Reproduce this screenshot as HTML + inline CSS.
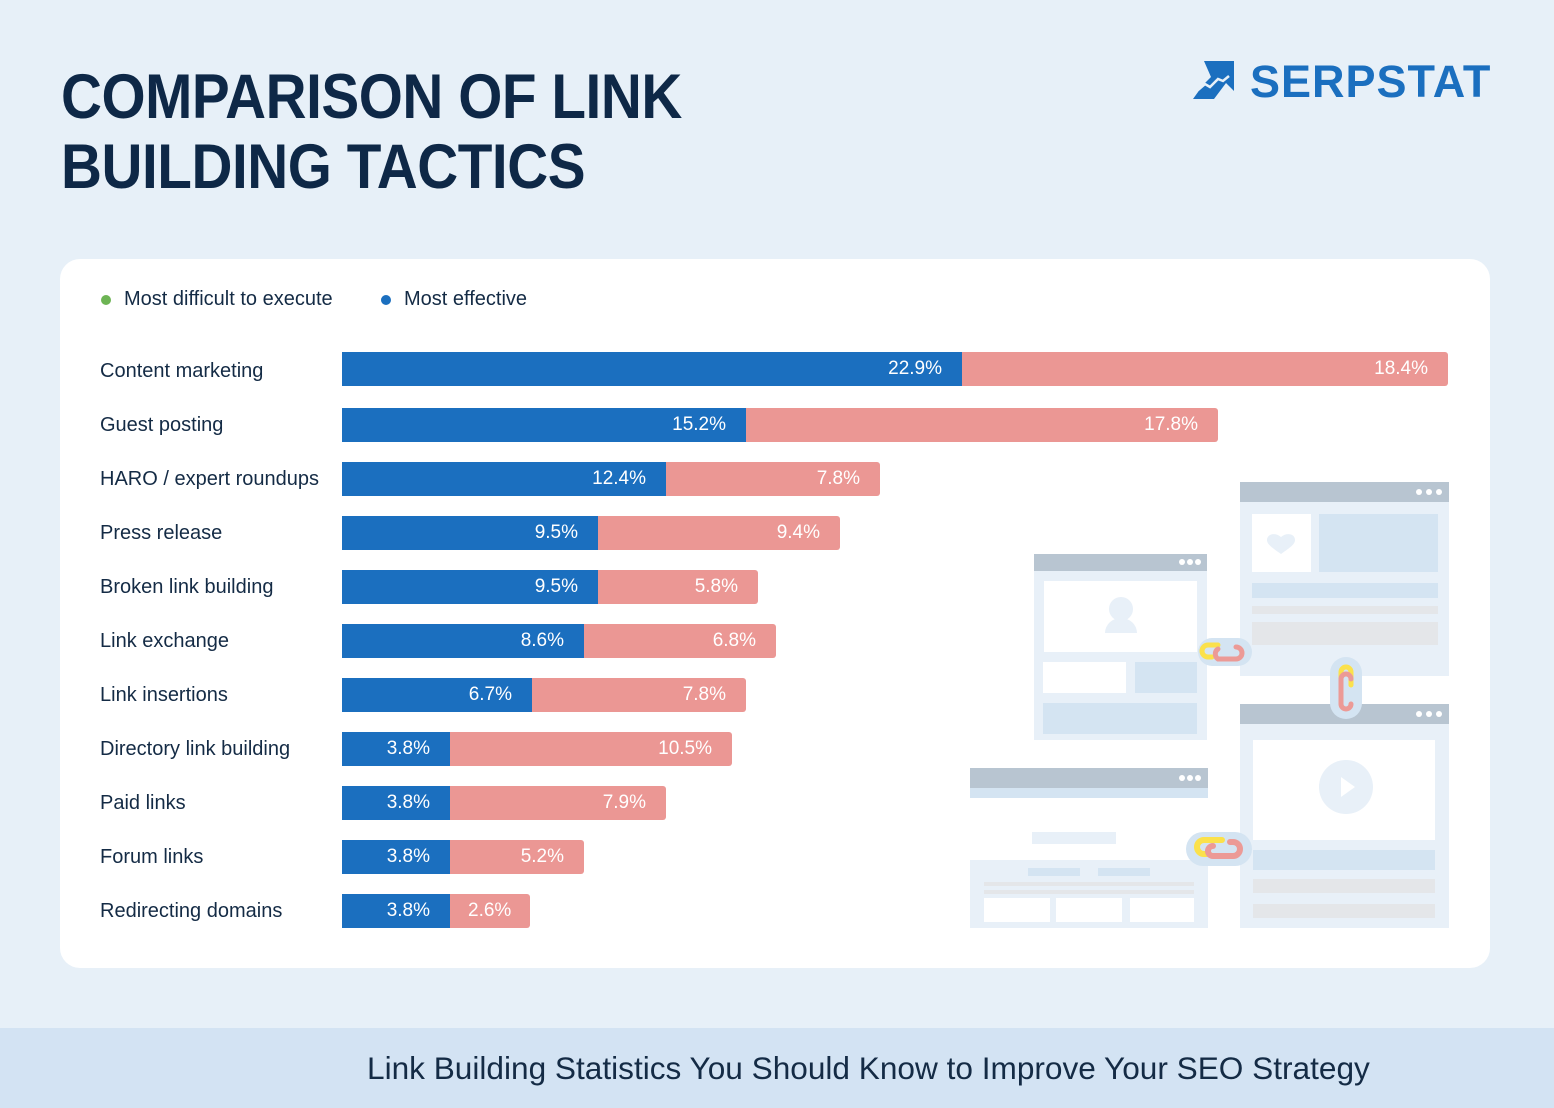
<!DOCTYPE html><html><head><style>
body{margin:0;width:1554px;height:1108px;background:#e7f0f8;font-family:"Liberation Sans",sans-serif;position:relative;overflow:hidden}
.a{position:absolute}
.t{left:61px;font-weight:bold;font-size:63px;color:#0e2847;letter-spacing:-0.5px;line-height:1;transform:scaleX(0.9);transform-origin:0 0;white-space:nowrap}
.card{left:60px;top:259px;width:1430px;height:709px;background:#fff;border-radius:20px}
.lab{left:100px;font-size:20px;color:#142b45;line-height:34px}
.b{height:34px;background:#1b6fbf;color:#fff;font-size:19px;line-height:34px;text-align:right;box-sizing:border-box;padding-right:20px}
.p{height:34px;background:#eb9794;color:#fff;font-size:19px;line-height:34px;text-align:right;box-sizing:border-box;padding-right:20px;border-radius:0 3px 3px 0}
</style></head><body>
<div class="a t" style="top:66px">COMPARISON OF LINK</div>
<div class="a t" style="top:136px">BUILDING TACTICS</div>
<svg class="a" style="left:1192px;top:60px" width="52" height="40" viewBox="0 0 52 40"><path d="M12 1h30v30l-8-8-12 16H1l10-14 8-8z" fill="#1b6fbf"/><path d="M6 30l7-6 5 3 8-8 5 2 6-5" stroke="#e7f0f8" stroke-width="2.5" fill="none"/></svg>
<div class="a" style="left:1250px;top:56px;font-size:45px;font-weight:bold;color:#1b6fbf;letter-spacing:1px">SERPSTAT</div>
<div class="a card"></div>
<div class="a" style="left:101px;top:295px;width:10px;height:10px;border-radius:50%;background:#6db454"></div>
<div class="a" style="left:124px;top:288px;font-size:20px;color:#142b45">Most difficult to execute</div>
<div class="a" style="left:381px;top:295px;width:10px;height:10px;border-radius:50%;background:#1b6fbf"></div>
<div class="a" style="left:404px;top:288px;font-size:20px;color:#142b45">Most effective</div>

<svg class="a" style="left:960px;top:470px" width="500" height="470">
<g transform="translate(-960,-470)">
<rect x="1240" y="482" width="209" height="194" fill="#e8f0f8"/><rect x="1240" y="482" width="209" height="20" fill="#b8c5d1"/>
<rect x="1252" y="514" width="59" height="58" fill="#fff"/><rect x="1319" y="514" width="119" height="58" fill="#d4e4f2"/>
<path d="M1281 554c-10-7-14-10-14-14 0-6 8-8 14-3 6-5 14-3 14 3 0 4-4 7-14 14z" fill="#e8f0f8"/>
<rect x="1252" y="583" width="186" height="15" fill="#d4e4f2"/><rect x="1252" y="606" width="186" height="8" fill="#e4e6e9"/><rect x="1252" y="622" width="186" height="23" fill="#e4e6e9"/>
<rect x="1034" y="554" width="173" height="186" fill="#e8f0f8"/><rect x="1034" y="554" width="173" height="17" fill="#b8c5d1"/>
<rect x="1044" y="581" width="153" height="71" fill="#fff"/><circle cx="1121" cy="609" r="12" fill="#e8f0f8"/><path d="M1105 633a16 15 0 0 1 32 0z" fill="#e8f0f8"/>
<rect x="1043" y="662" width="83" height="31" fill="#fff"/><rect x="1135" y="662" width="62" height="31" fill="#d4e4f2"/><rect x="1043" y="703" width="154" height="31" fill="#d4e4f2"/>
<rect x="970" y="768" width="238" height="20" fill="#b8c5d1"/><rect x="970" y="788" width="238" height="10" fill="#d4e4f2"/>
<rect x="1032" y="832" width="84" height="12" fill="#e8f0f8"/><rect x="970" y="860" width="238" height="68" fill="#e8f0f8"/>
<rect x="1028" y="868" width="52" height="8" fill="#d4e4f2"/><rect x="1098" y="868" width="52" height="8" fill="#d4e4f2"/>
<rect x="984" y="882" width="210" height="4" fill="#e4e6e9"/><rect x="984" y="890" width="210" height="4" fill="#e4e6e9"/>
<rect x="984" y="898" width="66" height="24" fill="#fff"/><rect x="1056" y="898" width="66" height="24" fill="#fff"/><rect x="1130" y="898" width="64" height="24" fill="#fff"/>
<rect x="1240" y="704" width="209" height="224" fill="#e8f0f8"/><rect x="1240" y="704" width="209" height="20" fill="#b8c5d1"/>
<rect x="1253" y="740" width="182" height="100" fill="#fff"/><circle cx="1346" cy="787" r="27" fill="#e8f0f8"/><path d="M1341 777l14 10-14 10z" fill="#fff"/>
<rect x="1253" y="850" width="182" height="20" fill="#d4e4f2"/><rect x="1253" y="879" width="182" height="14" fill="#e4e6e9"/><rect x="1253" y="904" width="182" height="14" fill="#e4e6e9"/>
<g fill="#fff"><circle cx="1419" cy="492" r="3"/><circle cx="1429" cy="492" r="3"/><circle cx="1439" cy="492" r="3"/><circle cx="1419" cy="714" r="3"/><circle cx="1429" cy="714" r="3"/><circle cx="1439" cy="714" r="3"/><circle cx="1182" cy="562" r="3"/><circle cx="1190" cy="562" r="3"/><circle cx="1198" cy="562" r="3"/><circle cx="1182" cy="778" r="3"/><circle cx="1190" cy="778" r="3"/><circle cx="1198" cy="778" r="3"/></g>
<rect x="1198" y="638" width="54" height="28" rx="14" fill="#d4e4f2"/>
<path d="M1218 645h-10a6 6 0 0 0 0 12h4" stroke="#fbe14b" stroke-width="5" fill="none" stroke-linecap="round"/>
<path d="M1218 649h-0a6 6 0 0 0 0 10h18a6 6 0 0 0 0-12" stroke="#ec9a96" stroke-width="5" fill="none" stroke-linecap="round"/>
<rect x="1330" y="657" width="32" height="62" rx="16" fill="#d4e4f2"/>
<path d="M1341 684v-12a5 5 0 0 1 10 0v13" stroke="#fbe14b" stroke-width="5" fill="none" stroke-linecap="round"/>
<path d="M1351 679a5 5 0 0 0-10 0v25a5 5 0 0 0 10 0" stroke="#ec9a96" stroke-width="5" fill="none" stroke-linecap="round"/>
<rect x="1186" y="832" width="66" height="34" rx="17" fill="#d4e4f2"/>
<path d="M1222 840h-18a7 7 0 0 0 0 14h5" stroke="#fbe14b" stroke-width="6" fill="none" stroke-linecap="round"/>
<path d="M1213 846a5 5 0 0 0 0 10h20a7 7 0 0 0 0-14h-3" stroke="#ec9a96" stroke-width="6" fill="none" stroke-linecap="round"/>
</g></svg>

<div class="a lab" style="top:354px">Content marketing</div>
<div class="a lab" style="top:408px">Guest posting</div>
<div class="a lab" style="top:462px">HARO / expert roundups</div>
<div class="a lab" style="top:516px">Press release</div>
<div class="a lab" style="top:570px">Broken link building</div>
<div class="a lab" style="top:624px">Link exchange</div>
<div class="a lab" style="top:678px">Link insertions</div>
<div class="a lab" style="top:732px">Directory link building</div>
<div class="a lab" style="top:786px">Paid links</div>
<div class="a lab" style="top:840px">Forum links</div>
<div class="a lab" style="top:894px">Redirecting domains</div>

<div class="a b" style="left:342px;top:352px;width:620px">22.9%</div><div class="a p" style="left:962px;top:352px;width:486px">18.4%</div>
<div class="a b" style="left:342px;top:408px;width:404px">15.2%</div><div class="a p" style="left:746px;top:408px;width:472px">17.8%</div>
<div class="a b" style="left:342px;top:462px;width:324px">12.4%</div><div class="a p" style="left:666px;top:462px;width:214px">7.8%</div>
<div class="a b" style="left:342px;top:516px;width:256px">9.5%</div><div class="a p" style="left:598px;top:516px;width:242px">9.4%</div>
<div class="a b" style="left:342px;top:570px;width:256px">9.5%</div><div class="a p" style="left:598px;top:570px;width:160px">5.8%</div>
<div class="a b" style="left:342px;top:624px;width:242px">8.6%</div><div class="a p" style="left:584px;top:624px;width:192px">6.8%</div>
<div class="a b" style="left:342px;top:678px;width:190px">6.7%</div><div class="a p" style="left:532px;top:678px;width:214px">7.8%</div>
<div class="a b" style="left:342px;top:732px;width:108px">3.8%</div><div class="a p" style="left:450px;top:732px;width:282px">10.5%</div>
<div class="a b" style="left:342px;top:786px;width:108px">3.8%</div><div class="a p" style="left:450px;top:786px;width:216px">7.9%</div>
<div class="a b" style="left:342px;top:840px;width:108px">3.8%</div><div class="a p" style="left:450px;top:840px;width:134px">5.2%</div>
<div class="a b" style="left:342px;top:894px;width:108px">3.8%</div><div class="a p" style="left:450px;top:894px;width:80px;text-align:left;padding-left:18px">2.6%</div>

<div class="a" style="left:0;top:1028px;width:1554px;height:80px;background:#d3e3f3"></div>
<div class="a" style="left:367px;top:1050px;font-size:31.6px;color:#142b45;white-space:nowrap">Link Building Statistics You Should Know to Improve Your SEO Strategy</div>
</body></html>
